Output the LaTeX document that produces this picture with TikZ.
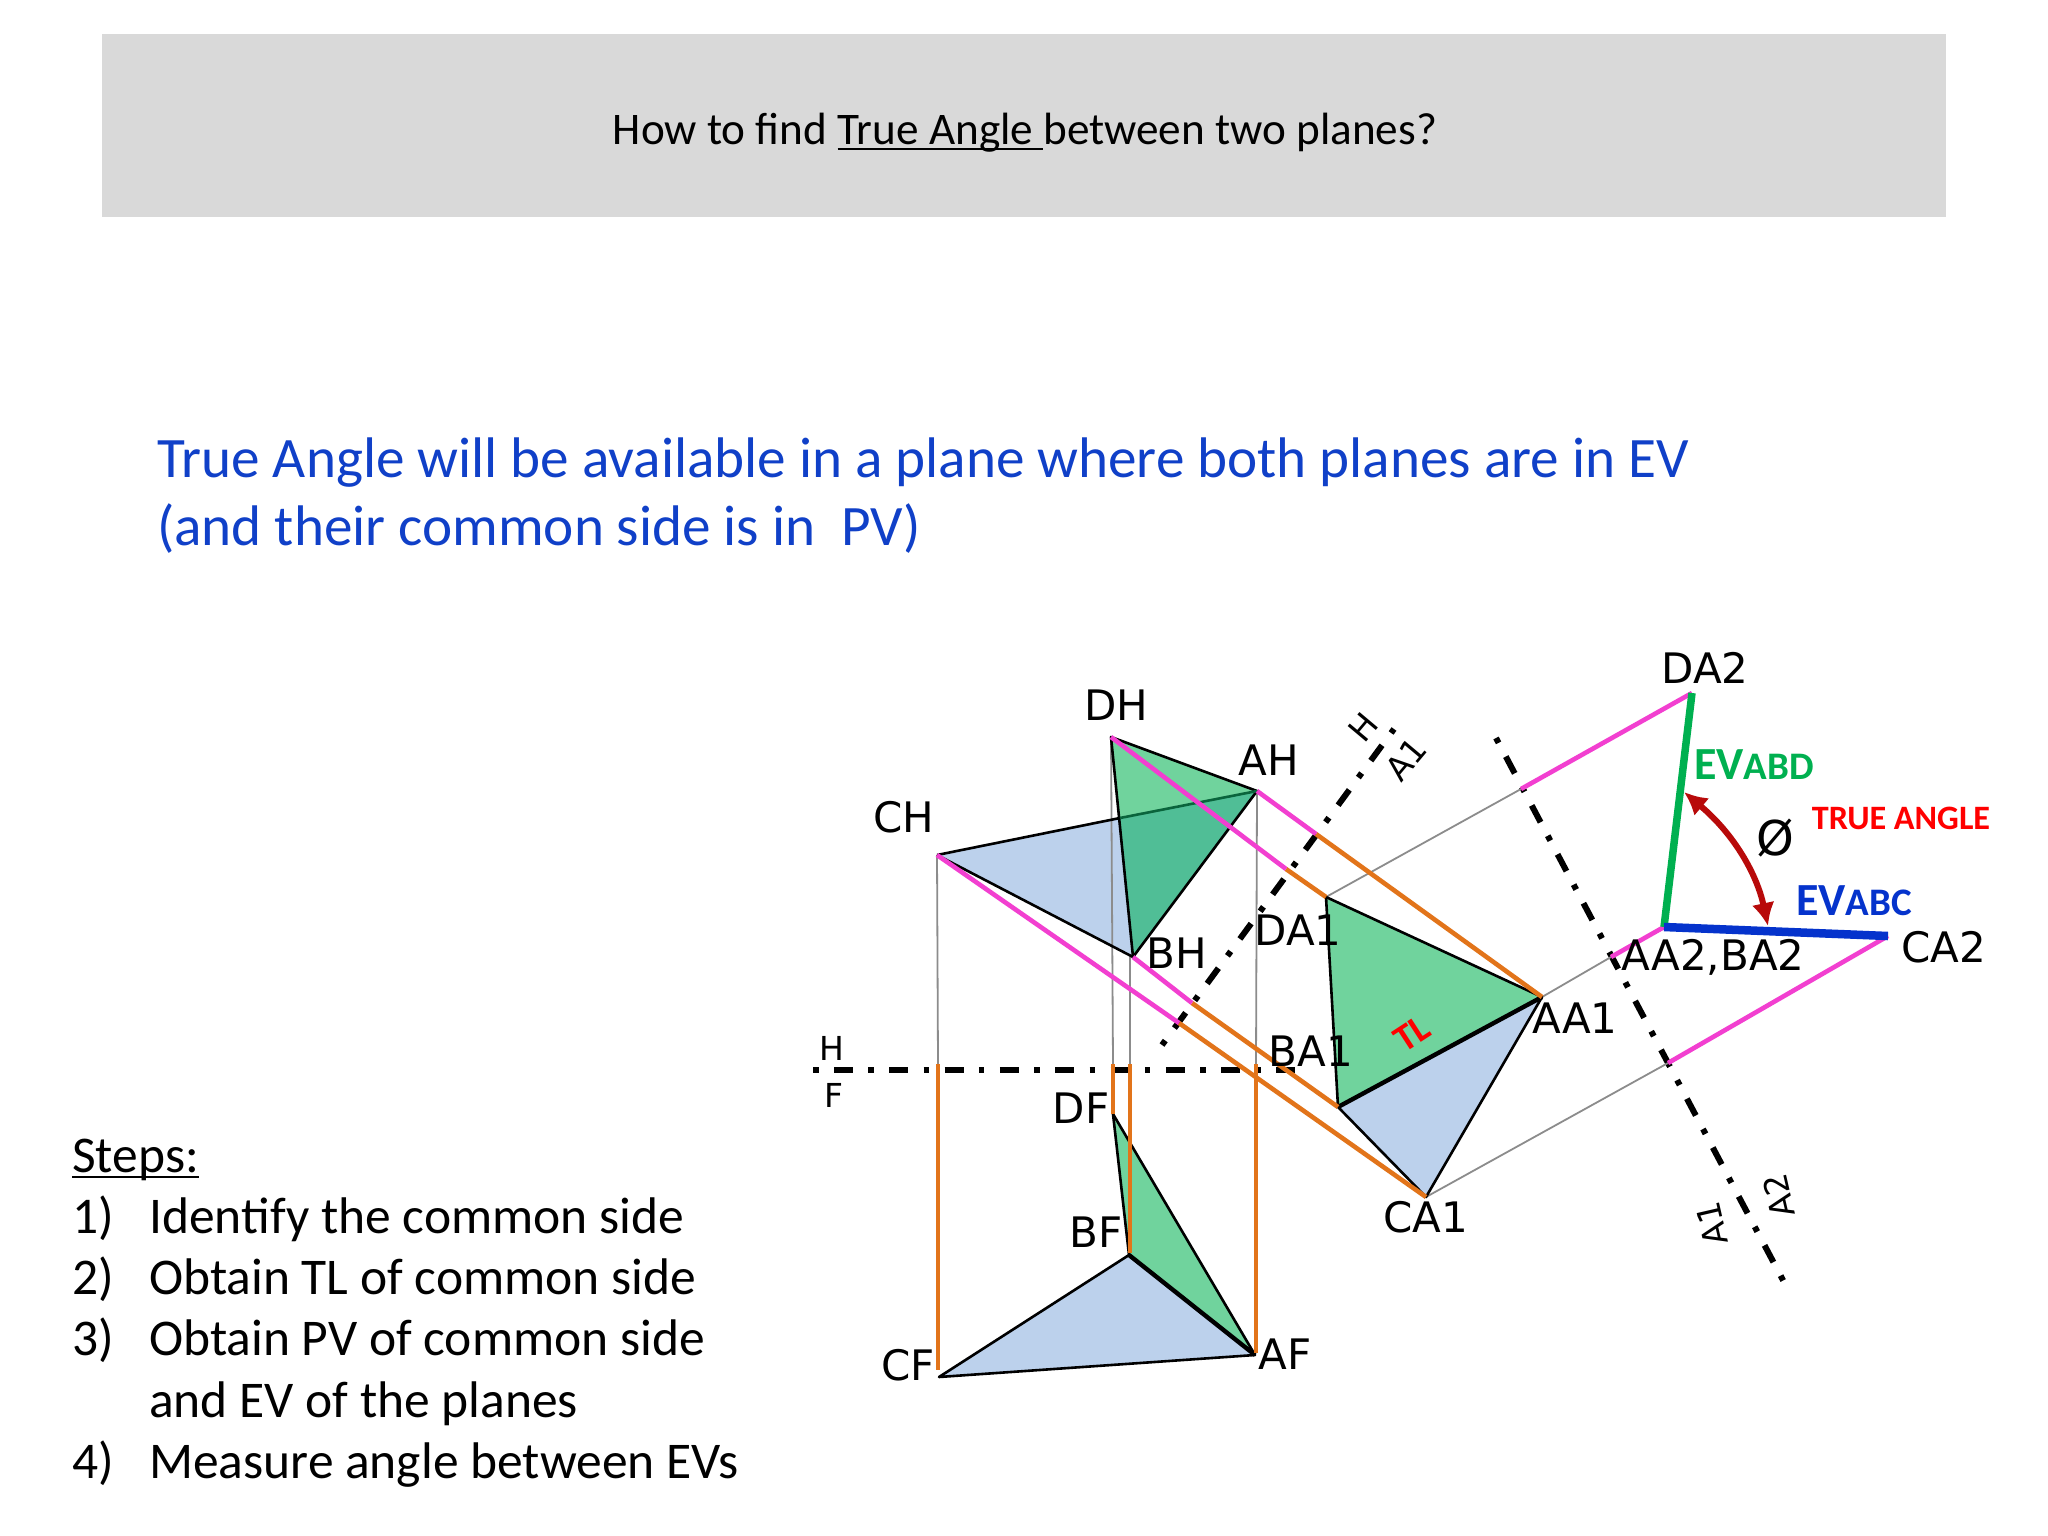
\documentclass[tikz,border=0pt]{standalone}
\usepackage{fontspec}
\setmainfont{Carlito}
\newfontfamily\lab{DejaVu Sans}
\usetikzlibrary{arrows.meta}
\definecolor{bluefill}{HTML}{BCD1EC}
\definecolor{greenfill}{HTML}{70D39D}
\definecolor{darkfill}{HTML}{50BE96}
\definecolor{orangeln}{HTML}{E2741A}
\definecolor{pinkln}{HTML}{F23FD0}
\definecolor{evgreen}{HTML}{00B050}
\definecolor{evblue}{HTML}{0533CC}
\definecolor{headblue}{HTML}{1040C8}
\definecolor{arcred}{HTML}{B80A0A}
\newcommand{\myul}[2][5]{\setbox0\hbox{#2}\mbox{\rlap{\raisebox{-#1pt}{\rule{\wd0}{2.4pt}}}\box0}}
\tikzset{
 x=1pt,y=-1pt,
 vlabel/.style={font=\lab\fontsize{42}{42}\selectfont,inner sep=0pt,text=black},
 smlabel/.style={font=\lab\fontsize{33}{33}\selectfont,inner sep=0pt,text=black},
 edge/.style={draw=black,line width=2.6pt,line join=round},
 grayln/.style={draw=gray!90,line width=1.8pt},
 pinkseg/.style={draw=pinkln,line width=4.6pt},
 orangeseg/.style={draw=orangeln,line width=4.6pt},
 foldline/.style={draw=black,line width=6pt,dash pattern=on 5.5pt off 15.5pt on 19pt off 15.3pt},
 stepstext/.style={font=\fontsize{51.5}{51.5}\selectfont,inner sep=0pt,anchor=base west},
 headtext/.style={font=\fontsize{57.2}{57.2}\selectfont,inner sep=0pt,anchor=base west,text=headblue},
}
\begin{document}
\begin{tikzpicture}
\useasboundingbox (0,0) rectangle (2048,1536);
\fill[white] (0,0) rectangle (2048,1536);
\fill[fill={rgb,255:red,217;green,217;blue,217}] (102,34) rectangle (1946,217);
\node[inner sep=0pt,anchor=base] (title) at (1025,145) {\fontsize{45.2}{45.2}\selectfont How to find \myul{True Angle\ }between two planes?};
\node[headtext] (head1) at (157,477) {True Angle will be available in a plane where both planes are in EV};
\node[headtext] (head2) at (157,545) {(and their common side is in\ \ PV)};
\node[stepstext] (s0) at (72,1172) {\myul[6]{Steps:}};
\node[stepstext] (n1) at (72,1233) {1)};
\node[stepstext] (s1) at (149,1233) {Identify the common side};
\node[stepstext] (n2) at (72,1294) {2)};
\node[stepstext] (s2) at (149,1294) {Obtain TL of common side};
\node[stepstext] (n3) at (72,1355) {3)};
\node[stepstext] (s3) at (149,1355) {Obtain PV of common side};
\node[stepstext] (s3b) at (149,1417) {and EV of the planes};
\node[stepstext] (n4) at (72,1478) {4)};
\node[stepstext] (s4) at (149,1478) {Measure angle between EVs};
% points
\coordinate (DH) at (1111,737);
\coordinate (AH) at (1257,791);
\coordinate (CH) at (937,855);
\coordinate (BH) at (1133,957);
\coordinate (gBH) at (1130,957);
\coordinate (DF) at (1113,1114);
\coordinate (BF) at (1129,1255);
\coordinate (AF) at (1255,1355);
\coordinate (CF) at (939,1377);
\coordinate (DA) at (1326,897);
\coordinate (AA) at (1542,997);
\coordinate (BA) at (1338,1107);
\coordinate (CA) at (1426,1197);
\coordinate (DT) at (1692,693);
\coordinate (AT) at (1664,927);
\coordinate (CT) at (1888,936);
% fold end points
\coordinate (hf1) at (813,1070);\coordinate (hf2) at (1296,1070);
\coordinate (ha1) at (1162,1045);\coordinate (ha2) at (1394,729);
\coordinate (aa1) at (1496,738);\coordinate (aa2) at (1785,1284);
% crossing points
\coordinate (pAH) at (1316,834);
\coordinate (pDH) at (1286,869);
\coordinate (pBH) at (1192,1003);
\coordinate (pCH) at (1179,1023);
\coordinate (pDT) at (1521,789);
\coordinate (pAT) at (1611,957);
\coordinate (pCT) at (1668,1063);
\coordinate (oCH) at (938,1064);\coordinate (oDH) at (1113,1064);
\coordinate (oBH) at (1130,1064);\coordinate (oAH) at (1256,1064);
\coordinate (xCA) at (1120,818);
% fills
\fill[bluefill] (CH)--(AH)--(BH)--cycle;
\fill[greenfill] (DH)--(AH)--(BH)--cycle;
\begin{scope}
\clip (CH)--(AH)--(BH)--cycle;
\fill[darkfill] (DH)--(AH)--(BH)--cycle;
\end{scope}
\fill[greenfill] (DF)--(BF)--(AF)--cycle;
\fill[bluefill] (CF)--(BF)--(AF)--cycle;
\fill[greenfill] (DA)--(AA)--(BA)--cycle;
\fill[bluefill] (BA)--(AA)--(CA)--cycle;
% fold lines
\draw[foldline] (hf1)--(hf2);
\draw[foldline] (ha1)--(ha2);
\draw[foldline] (aa1)--(aa2);
% gray projectors
\draw[grayln] (CH)--(oCH);
\draw[grayln] (DH)--(oDH);
\draw[grayln] (gBH)--(oBH);
\draw[grayln] (AH)--(oAH);
\draw[grayln] (DA)--(pDT);
\draw[grayln] (AA)--(pAT);
\draw[grayln] (CA)--(pCT);
% triangle edges
\draw[edge] (CH)--(BH);
\draw[edge] (DH)--(AH)--(BH)--cycle;
\draw[edge] (CH)--(xCA);
\draw[edge,draw={rgb,255:red,10;green,100;blue,60}] (xCA)--(AH);
\draw[edge] (DF)--(BF);
\draw[edge] (DF)--(AF)--(CF)--(BF);
\draw[edge,line width=4.4pt] (BF)--(AF);
\draw[edge] (DA)--(AA)--(CA)--(BA)--cycle;
\draw[edge,line width=4.4pt] (BA)--(AA);
% orange
\draw[orangeseg] (oCH)--(938,1370);
\draw[orangeseg] (oDH)--(DF);
\draw[orangeseg] (oBH)--(1130,1253);
\draw[orangeseg] (oAH)--(1256,1353);
\draw[orangeseg] (pAH)--(AA);
\draw[orangeseg] (pDH)--(DA);
\draw[orangeseg] (pBH)--(BA);
\draw[orangeseg] (pCH)--(CA);
% pink
\draw[pinkseg] (AH)--(pAH);
\draw[pinkseg] (DH)--(pDH);
\draw[pinkseg] (BH)--(pBH);
\draw[pinkseg] (CH)--(pCH);
\draw[pinkseg] (DT)--(pDT);
\draw[pinkseg] (AT)--(pAT);
\draw[pinkseg] (CT)--(pCT);
% EV
\draw[draw=evgreen,line width=7.5pt] (DT)--(AT);
\draw[draw=evblue,line width=8.5pt] (AT)--(CT);
\coordinate (ar1) at (1684,792);\coordinate (ar2) at (1768,926);
\draw[draw=arcred,line width=6pt,{Latex[length=23pt,width=23pt]}-{Latex[length=23pt,width=23pt]}] (ar1) .. controls (1735,835) and (1757,875) .. (ar2);
% labels
\node[vlabel] (lDH) at (1116,705) {DH};
\node[vlabel] (lAH) at (1269,760) {AH};
\node[vlabel] (lCH) at (904,817) {CH};
\node[vlabel] (lBH) at (1177,953) {BH};
\node[vlabel] (lDA) at (1298,930) {DA1};
\node[vlabel] (lBA) at (1311,1051) {BA1};
\node[vlabel] (lDF) at (1081,1108) {DF};
\node[vlabel] (lBF) at (1096,1232) {BF};
\node[vlabel] (lCF) at (908,1365) {CF};
\node[vlabel] (lAF) at (1285,1354) {AF};
\node[vlabel] (lCA) at (1426,1217) {CA1};
\node[vlabel] (lAA) at (1575,1018) {AA1};
\node[vlabel] (lDT) at (1705,668) {DA2};
\node[vlabel] (lAT) at (1713,957) {AA2,BA2};
\node[vlabel] (lCT) at (1944,947) {CA2};
\node[smlabel] (lH) at (832,1048) {H};
\node[smlabel] (lF) at (834,1095) {F};
\node[smlabel,rotate=50] (lH2) at (1363,727) {H};
\node[smlabel,rotate=50] (lA1) at (1406,759) {A1};
\node[smlabel,rotate=103] (lA1b) at (1712,1224) {A1};
\node[smlabel,rotate=103] (lA2) at (1779,1196) {A2};
\node[vlabel,font=\lab\fontsize{48}{48}\selectfont] (phi) at (1775,838) {Ø};
\node[inner sep=0pt,text=red,font=\bfseries\fontsize{34.2}{34.2}\selectfont] (ta) at (1901,818) {TRUE ANGLE};
\node[inner sep=0pt,anchor=west,text=evgreen,font=\bfseries] (eva) at (1694,765) {\fontsize{46}{46}\selectfont EV\fontsize{39}{39}\selectfont ABD};
\node[inner sep=0pt,anchor=west,text=evblue,font=\bfseries] (evb) at (1796,901) {\fontsize{46}{46}\selectfont EV\fontsize{39}{39}\selectfont ABC};
\node[inner sep=0pt,rotate=33,text=red,font=\bfseries\fontsize{38}{38}\selectfont] (tl) at (1412,1034) {TL};
\end{tikzpicture}
\end{document}
